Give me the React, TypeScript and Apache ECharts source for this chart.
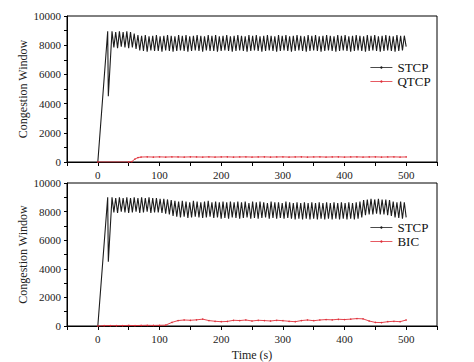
import React, { useEffect, useRef } from "react";
import * as echarts from "echarts";

// ---- data ----
const SAMPLE_START = 23; // s, first oscillation sample
const SAMPLE_STEP = 3; // s between samples

const stcpTopRamp: [number, number][] = [[0, 0], [16, 8950], [17, 4500]];
const stcpTopOsc = [
  8950, 7850, 8900, 7800, 8950, 7900, 8900, 7850, 8950, 7800,
  8900, 7850, 8800, 7750, 8700, 7650, 8650, 7600, 8700, 7550,
  8600, 7650, 8650, 7600, 8700, 7600, 8600, 7550, 8650, 7650,
  8700, 7600, 8650, 7550, 8600, 7600, 8700, 7650, 8650, 7600,
  8700, 7550, 8600, 7600, 8650, 7650, 8700, 7600, 8650, 7550,
  8600, 7650, 8700, 7600, 8650, 7600, 8700, 7550, 8600, 7600,
  8650, 7650, 8700, 7600, 8600, 7550, 8650, 7600, 8700, 7650,
  8650, 7600, 8600, 7550, 8700, 7600, 8650, 7650, 8700, 7600,
  8600, 7550, 8650, 7600, 8700, 7650, 8650, 7600, 8600, 7550,
  8700, 7600, 8650, 7650, 8700, 7600, 8600, 7550, 8650, 7600,
  8700, 7650, 8650, 7600, 8600, 7550, 8700, 7600, 8650, 7650,
  8700, 7600, 8600, 7550, 8650, 7600, 8700, 7650, 8650, 7600,
  8600, 7550, 8700, 7600, 8650, 7650, 8700, 7600, 8600, 7550,
  8650, 7600, 8700, 7650, 8650, 7600, 8600, 7550, 8700, 7600,
  8650, 7650, 8700, 7600, 8600, 7550, 8650, 7600, 8700, 7650,
  8650, 7600, 8600, 7550, 8700, 7600, 8650, 7650, 8650, 7900,
];

const stcpBotRamp: [number, number][] = [[0, 0], [16, 9000], [17, 4500]];
const stcpBotOsc = [
  9000, 7950, 8950, 7900, 9000, 8000, 8950, 7950, 9000, 7900,
  8950, 7950, 9000, 8000, 8950, 7900, 9000, 7950, 8950, 8000,
  9000, 7900, 8950, 7950, 8950, 7950, 8900, 7900, 8900, 7850,
  8850, 7800, 8800, 7700, 8750, 7650, 8700, 7600, 8750, 7650,
  8700, 7550, 8650, 7600, 8750, 7650, 8700, 7600, 8650, 7550,
  8700, 7600, 8750, 7650, 8650, 7550, 8700, 7600, 8650, 7500,
  8700, 7550, 8650, 7500, 8700, 7600, 8650, 7550, 8700, 7500,
  8650, 7550, 8700, 7600, 8600, 7500, 8700, 7550, 8650, 7500,
  8700, 7550, 8650, 7600, 8600, 7500, 8700, 7550, 8650, 7500,
  8650, 7550, 8600, 7500, 8700, 7550, 8650, 7500, 8600, 7450,
  8650, 7500, 8600, 7450, 8650, 7500, 8600, 7450, 8650, 7500,
  8600, 7450, 8650, 7500, 8600, 7450, 8650, 7500, 8600, 7450,
  8650, 7500, 8600, 7450, 8650, 7500, 8600, 7450, 8650, 7500,
  8600, 7450, 8650, 7500, 8700, 7600, 8800, 7750, 8850, 7800,
  8900, 7800, 8850, 7850, 8900, 7800, 8850, 7800, 8850, 7750,
  8800, 7700, 8700, 7600, 8650, 7550, 8700, 7500, 8650, 7600,
];

const qtcpTime = [0, 50, 55, 60, 65, 70, 80, 90, 100, 110, 120, 130, 140, 150, 160, 170, 180, 190, 200, 210, 220, 230, 240, 250, 260, 270, 280, 290, 300, 310, 320, 330, 340, 350, 360, 370, 380, 390, 400, 410, 420, 430, 440, 450, 460, 470, 480, 490, 500];
const qtcpValues = [0, 0, 20, 200, 300, 340, 350, 340, 350, 340, 350, 345, 340, 350, 345, 340, 350, 340, 345, 350, 340, 345, 350, 340, 345, 350, 340, 345, 350, 340, 345, 350, 340, 345, 350, 340, 345, 350, 340, 345, 350, 340, 345, 350, 340, 345, 350, 340, 345];

const bicTime = [0, 10, 20, 30, 40, 50, 60, 70, 80, 90, 100, 110, 120, 130, 140, 150, 160, 170, 180, 190, 200, 210, 220, 230, 240, 250, 260, 270, 280, 290, 300, 310, 320, 330, 340, 350, 360, 370, 380, 390, 400, 410, 420, 430, 440, 450, 460, 470, 480, 490, 500];
const bicValues = [0, 20, 30, 20, 30, 40, 30, 40, 50, 40, 50, 60, 250, 380, 420, 400, 430, 480, 380, 330, 300, 320, 400, 380, 420, 350, 400, 380, 350, 400, 370, 330, 300, 380, 420, 370, 420, 450, 430, 470, 450, 480, 520, 500, 350, 250, 240, 300, 330, 300, 420];

const xTickLabels = ["0", "100", "200", "300", "400", "500"];
const yTickLabels = ["0", "2000", "4000", "6000", "8000", "10000"];

const FONT = "'Liberation Serif', 'DejaVu Serif', serif";

function withTime(ramp: [number, number][], osc: number[]) {
  return ramp.concat(osc.map((v, i) => [SAMPLE_START + SAMPLE_STEP * i, v] as [number, number]));
}
function zip(t: number[], v: number[]) {
  return t.map((x, i) => [x, v[i]]);
}

export default function App() {
  const ref = useRef<HTMLDivElement>(null);
  useEffect(() => {
    if (!ref.current) return;
    const chart = echarts.init(ref.current, undefined, { renderer: "svg" });
    const xAxisBase = (gridIndex: number, name: string) => ({
      type: "value" as const,
      gridIndex,
      min: -50,
      max: 550,
      interval: 50,
      name,
      nameLocation: "middle" as const,
      nameGap: 23,
      nameMoveOverlap: false,
      nameTextStyle: { fontFamily: FONT, fontSize: 12, color: "#222" },
      axisLine: { onZero: false, lineStyle: { color: "#000", width: 1 } },
      axisTick: { show: true, inside: false, length: 4, lineStyle: { color: "#000" } },
      axisLabel: {
        fontFamily: FONT,
        fontSize: 11,
        color: "#222",
        margin: 7,
        formatter: (v: number) => (xTickLabels.includes(String(v)) ? String(v) : ""),
      },
      splitLine: { show: false },
    });
    const yAxisBase = (gridIndex: number) => ({
      type: "value" as const,
      gridIndex,
      min: 0,
      max: 10000,
      interval: 1000,
      name: "Congestion Window",
      nameLocation: "middle" as const,
      nameGap: 38,
      nameMoveOverlap: false,
      nameRotate: 90,
      nameTextStyle: { fontFamily: FONT, fontSize: 12, color: "#222" },
      axisLine: { show: true, onZero: false, lineStyle: { color: "#000", width: 1 } },
      axisTick: { show: true, inside: false, length: 3, lineStyle: { color: "#000" } },
      axisLabel: {
        fontFamily: FONT,
        fontSize: 11,
        color: "#222",
        margin: 6,
        formatter: (v: number) => (yTickLabels.includes(String(v)) ? String(v) : ""),
      },
      splitLine: { show: false },
    });
    const blackLine = { color: "#1c1c1c", width: 1.1 };
    const redLine = { color: "#e0303a", width: 0.9 };
    const legendBase = {
      left: 370,
      orient: "vertical" as const,
      padding: 0,
      itemWidth: 22,
      itemHeight: 3,
      itemGap: 1,
      lineStyle: { width: 0.8 },
      textStyle: { fontFamily: FONT, fontSize: 13, color: "#111" },
    };
    chart.setOption({
      animation: false,
      backgroundColor: "#fff",
      grid: [
        { left: 67, right: 37, top: 16, height: 146, show: true, borderColor: "#000", borderWidth: 1 },
        { left: 67, right: 37, top: 183, height: 148, show: true, borderColor: "#000", borderWidth: 1 },
      ],
      xAxis: [xAxisBase(0, ""), xAxisBase(1, "Time (s)")],
      yAxis: [yAxisBase(0), yAxisBase(1)],
      legend: [
        { ...legendBase, data: ["STCP", "QTCP"], top: 61 },
        { ...legendBase, data: ["STCP ", "BIC"], top: 221, formatter: (n: string) => n.trim() },
      ],
      series: [
        {
          name: "STCP",
          type: "line",
          xAxisIndex: 0,
          yAxisIndex: 0,
          data: withTime(stcpTopRamp, stcpTopOsc),
          showSymbol: false,
          symbol: "circle",
          symbolSize: 2,
          itemStyle: { color: "#1c1c1c" },
          lineStyle: blackLine,
        },
        {
          name: "QTCP",
          type: "line",
          xAxisIndex: 0,
          yAxisIndex: 0,
          data: zip(qtcpTime, qtcpValues),
          showSymbol: true,
          symbol: "circle",
          symbolSize: 1.5,
          itemStyle: { color: "#e0303a" },
          lineStyle: redLine,
        },
        {
          name: "STCP ",
          type: "line",
          xAxisIndex: 1,
          yAxisIndex: 1,
          data: withTime(stcpBotRamp, stcpBotOsc),
          showSymbol: false,
          symbol: "circle",
          symbolSize: 2,
          itemStyle: { color: "#1c1c1c" },
          lineStyle: blackLine,
        },
        {
          name: "BIC",
          type: "line",
          xAxisIndex: 1,
          yAxisIndex: 1,
          data: zip(bicTime, bicValues),
          showSymbol: true,
          symbol: "circle",
          symbolSize: 1.5,
          itemStyle: { color: "#e0303a" },
          lineStyle: redLine,
        },
      ],
    });
    return () => chart.dispose();
  }, []);
  return <div ref={ref} style={{ width: 474, height: 362, position: "absolute", left: 0, top: 0 }} />;
}
